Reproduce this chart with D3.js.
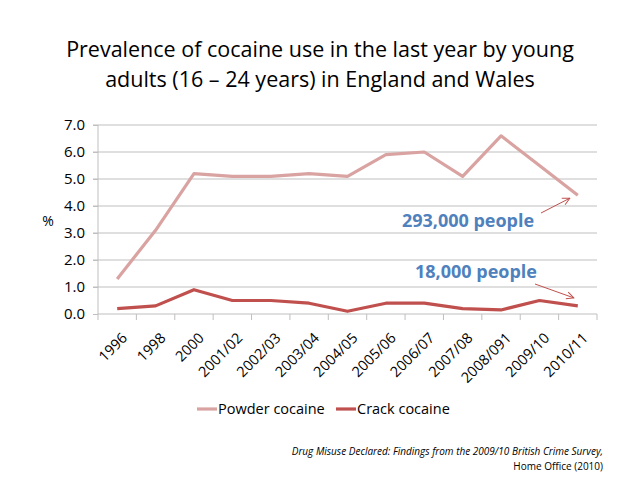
<!DOCTYPE html>
<html><head><meta charset="utf-8">
<script src="https://cdn.jsdelivr.net/npm/d3@7"></script>
<style>body{margin:0;background:#fff}svg{display:block}text{font-family:"Open Sans",sans-serif}</style>
</head><body><svg id="c" width="638" height="478"></svg>
<script>
const categories=["1996","1998","2000","2001/02","2002/03","2003/04","2004/05","2005/06","2006/07","2007/08","2008/091","2009/10","2010/11"];
const powder=[1.3,3.1,5.2,5.1,5.1,5.2,5.1,5.9,6.0,5.1,6.6,5.5,4.4];
const crack=[0.2,0.3,0.9,0.5,0.5,0.4,0.1,0.4,0.4,0.2,0.15,0.5,0.3];
const yTicks=[0,1,2,3,4,5,6,7];
const seriesNames=["Powder cocaine","Crack cocaine"];
const colors=["#d9a3a2","#c0504d"];

const svg=d3.select("#c");
const m={l:98,r:597,t:125,b:314};
const x=d3.scaleBand().domain(categories).range([m.l,m.r]);
const y=d3.scaleLinear().domain([0,7]).range([m.b,m.t]);

// title
const title=svg.append("text").attr("x",320).attr("text-anchor","middle").attr("font-size",21.5).attr("fill","#000");
title.append("tspan").attr("x",320).attr("y",57).text("Prevalence of cocaine use in the last year by young");
title.append("tspan").attr("x",320).attr("y",87).text("adults (16 \u2013 24 years) in England and Wales");

// gridlines
svg.append("g").selectAll("line").data(yTicks.slice(1)).join("line")
 .attr("x1",m.l-5).attr("x2",m.r).attr("y1",d=>y(d)).attr("y2",d=>y(d))
 .attr("stroke","#bfbfbf").attr("stroke-width",1);

// y axis
const ya=svg.append("g").attr("transform",`translate(${m.l},0)`)
 .call(d3.axisLeft(y).tickValues(yTicks).tickFormat(d3.format(".1f")).tickSize(5).tickPadding(8));
ya.select(".domain").attr("stroke","#bfbfbf").attr("d",`M0,${m.t}V${m.b}`);
ya.selectAll(".tick line").attr("stroke","#bfbfbf");
ya.selectAll(".tick text").attr("font-size",15).attr("fill","#000").attr("font-family","Open Sans");

// x axis
const xa=svg.append("g").attr("transform",`translate(0,${m.b})`)
 .call(d3.axisBottom(x).tickSize(0).tickFormat(d=>d));
xa.select(".domain").attr("stroke","#bfbfbf").attr("d",`M${m.l},0H${m.r}`);
const edges=categories.map(c=>x(c)).concat([m.r]);
xa.selectAll(".edge").data(edges).join("line").attr("class","edge")
 .attr("x1",d=>d).attr("x2",d=>d).attr("y1",0).attr("y2",6).attr("stroke","#bfbfbf");
xa.selectAll(".tick text").attr("font-size",14.5).attr("fill","#000").attr("font-family","Open Sans")
 .attr("text-anchor","end").attr("dy",0).attr("y",0)
 .attr("transform",`translate(11,25) rotate(-45)`);

// % label
svg.append("text").attr("x",48).attr("y",226).attr("text-anchor","middle").attr("font-size",14).attr("fill","#000").text("%");

// lines
const line=d3.line().x((d,i)=>x(categories[i])+x.bandwidth()/2).y(d=>y(d));
[powder,crack].forEach((s,i)=>{
 svg.append("path").datum(s).attr("d",line).attr("fill","none")
  .attr("stroke",colors[i]).attr("stroke-width",3.2).attr("stroke-linejoin","round");
});

// annotations
const defs=svg.append("defs");
defs.append("marker").attr("id","ah").attr("viewBox","0 0 10 10").attr("refX",9).attr("refY",5)
 .attr("markerWidth",9).attr("markerHeight",9).attr("orient","auto-start-reverse")
 .append("path").attr("d","M1,1L9,5L1,9").attr("fill","none").attr("stroke","#c0504d").attr("stroke-width",1.1);
const lastX=x(categories[categories.length-1])+x.bandwidth()/2;
const ann=[
 {text:"293,000 people",tx:468,ty:227,x1:541,y1:213,x2:lastX-8,y2:y(powder[powder.length-1])+3},
 {text:"18,000 people",tx:476,ty:278,x1:535,y1:284,x2:lastX-4,y2:y(crack[crack.length-1])-8}
];
ann.forEach(a=>{
 svg.append("text").attr("x",a.tx).attr("y",a.ty).attr("text-anchor","middle")
  .attr("font-size",18).attr("font-weight","bold").attr("fill","#4f81bd").text(a.text);
 svg.append("line").attr("x1",a.x1).attr("y1",a.y1).attr("x2",a.x2).attr("y2",a.y2)
  .attr("stroke","#c0504d").attr("stroke-width",1).attr("marker-end","url(#ah)");
});

// legend
const lg=svg.append("g");
const lgItems=[{x:197},{x:336}];
seriesNames.forEach((n,i)=>{
 const g=lg.append("g").attr("transform",`translate(${lgItems[i].x},409)`);
 g.append("line").attr("x1",0).attr("x2",20).attr("stroke",colors[i]).attr("stroke-width",3.2);
 g.append("text").attr("x",21).attr("y",5).attr("font-size",14.5).attr("fill","#000").text(n);
});

// source
const src=svg.append("text").attr("text-anchor","end").attr("font-size",10).attr("fill","#000");
src.append("tspan").attr("x",603).attr("y",455).attr("font-style","italic").text("Drug Misuse Declared: Findings from the 2009/10 British Crime Survey,");
src.append("tspan").attr("x",603).attr("y",470).text("Home Office (2010)");
</script></body></html>
